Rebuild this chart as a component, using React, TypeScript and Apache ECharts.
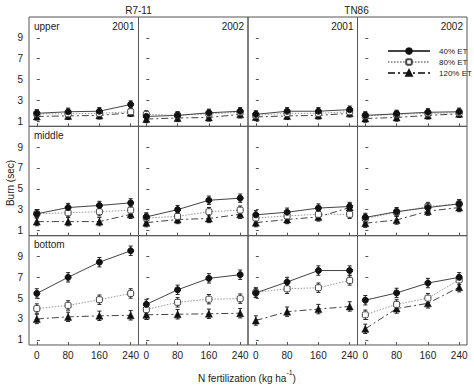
import React, { useEffect, useRef } from 'react';
import * as echarts from 'echarts';

const nRates = [0, 80, 160, 240];
const yTicks = [1, 3, 5, 7, 9];
const etLevels = ['40% ET', '80% ET', '120% ET'];
const rowNames = ['upper', 'middle', 'bottom'];
const colCultivars = ['R7-11', 'TN86'];
const colYears = ['2001', '2002', '2001', '2002'];

// each panel: [40% ET, 80% ET, 120% ET]
const r711_2001_upper = [[1.75, 1.9, 1.95, 2.6], [1.7, 1.7, 1.75, 1.9], [1.45, 1.5, 1.55, 1.8]];
const r711_2002_upper = [[1.45, 1.55, 1.8, 1.95], [1.65, 1.55, 1.7, 1.85], [1.2, 1.3, 1.35, 1.65]];
const tn86_2001_upper = [[1.65, 1.95, 1.95, 2.1], [1.55, 1.75, 1.75, 1.9], [1.4, 1.5, 1.55, 1.75]];
const tn86_2002_upper = [[1.55, 1.7, 1.85, 1.9], [1.5, 1.65, 1.75, 1.8], [1.25, 1.35, 1.55, 1.7]];

const r711_2001_middle = [[2.6, 3.2, 3.4, 3.65], [2.6, 2.7, 2.8, 2.95], [1.85, 1.85, 1.85, 2.55]];
const r711_2002_middle = [[2.3, 3.0, 3.9, 4.1], [2.2, 2.35, 2.8, 2.95], [1.75, 2.05, 2.15, 2.55]];
const tn86_2001_middle = [[2.5, 2.75, 3.15, 3.3], [2.2, 2.4, 2.55, 2.55], [1.75, 2.05, 2.3, 3.2]];
const tn86_2002_middle = [[2.25, 2.8, 3.2, 3.55], [2.15, 2.75, 3.3, 3.55], [1.7, 2.0, 2.85, 3.2]];

const r711_2001_bottom = [[5.45, 7.0, 8.45, 9.55], [4.0, 4.3, 4.85, 5.45], [3.0, 3.2, 3.3, 3.35]];
const r711_2002_bottom = [[4.4, 5.8, 6.9, 7.25], [3.9, 4.6, 4.9, 4.95], [3.4, 3.45, 3.5, 3.55]];
const tn86_2001_bottom = [[5.5, 6.55, 7.65, 7.65], [5.55, 5.9, 6.0, 6.7], [2.85, 3.7, 3.95, 4.2]];
const tn86_2002_bottom = [[4.8, 5.5, 6.45, 7.0], [3.4, 4.4, 5.0, 6.75], [2.05, 4.0, 4.5, 6.05]];

const rowErrors = [0.35, 0.4, 0.45];

const panels = [
  [r711_2001_upper, r711_2002_upper, tn86_2001_upper, tn86_2002_upper],
  [r711_2001_middle, r711_2002_middle, tn86_2001_middle, tn86_2002_middle],
  [r711_2001_bottom, r711_2002_bottom, tn86_2001_bottom, tn86_2002_bottom],
];

const FONT = '"Liberation Sans", Arial, sans-serif';
const TXT = '#222';
const LEFT = 29;
const TOP = 17;
const COL_W = 109.5;
const ROW_H = 109.33;

const seriesStyles = [
  { symbol: 'circle', symbolSize: 6, itemStyle: { color: '#111', borderColor: '#111', borderWidth: 1 }, lineStyle: { color: '#444', width: 1, type: 'solid' as any } },
  { symbol: 'roundRect', symbolSize: 6, itemStyle: { color: '#fff', borderColor: '#444', borderWidth: 1 }, lineStyle: { color: '#999', width: 1, type: [1.5, 1.5] as any } },
  { symbol: 'triangle', symbolSize: 7, itemStyle: { color: '#111', borderColor: '#111', borderWidth: 0.5 }, lineStyle: { color: '#444', width: 1, type: [7, 3, 2, 3] as any } },
];

function errRender(params: any, api: any) {
  const x = api.value(0);
  const y = api.value(1);
  const e = api.value(2);
  const t = api.coord([x, y + e]);
  const b = api.coord([x, y - e]);
  const st = { stroke: '#222', lineWidth: 1 };
  return {
    type: 'group',
    children: [
      { type: 'line', shape: { x1: t[0], y1: t[1], x2: b[0], y2: b[1] }, style: st },
      { type: 'line', shape: { x1: t[0] - 2, y1: t[1], x2: t[0] + 2, y2: t[1] }, style: st },
      { type: 'line', shape: { x1: b[0] - 2, y1: b[1], x2: b[0] + 2, y2: b[1] }, style: st },
    ],
  };
}

export default function App() {
  const ref = useRef<HTMLDivElement>(null);
  useEffect(() => {
    if (!ref.current) return;
    const chart = echarts.init(ref.current, null, { renderer: 'svg' });
    const grid: any[] = [];
    const xAxis: any[] = [];
    const yAxis: any[] = [];
    const series: any[] = [];
    const graphic: any[] = [];
    for (let r = 0; r < 3; r++) {
      for (let c = 0; c < 4; c++) {
        const p = r * 4 + c;
        grid.push({
          left: LEFT + c * COL_W, top: TOP + r * ROW_H, width: COL_W, height: ROW_H,
          show: true, borderColor: '#555', borderWidth: 1, backgroundColor: 'transparent',
        });
        xAxis.push({
          gridIndex: p, type: 'value', min: -20, max: 260,
          axisLine: { show: false }, splitLine: { show: false },
          axisTick: { inside: true, length: 3, customValues: nRates, lineStyle: { color: '#555' } },
          axisLabel: { show: r === 2, customValues: nRates, margin: 6, fontSize: 10, color: TXT, fontFamily: FONT },
        });
        yAxis.push({
          gridIndex: p, type: 'value', min: 0.5, max: 11,
          axisLine: { show: false }, splitLine: { show: false },
          axisTick: { inside: true, length: 3, customValues: yTicks, lineStyle: { color: '#555' } },
          axisLabel: { show: c === 0, customValues: yTicks, margin: 6, fontSize: 10, color: TXT, fontFamily: FONT },
        });
        const vals = panels[r][c];
        for (let k = 0; k < 3; k++) {
          series.push({
            type: 'custom', xAxisIndex: p, yAxisIndex: p, silent: true, z: 2,
            data: nRates.map((x, i) => [x, vals[k][i], rowErrors[r]]),
            renderItem: errRender,
          });
        }
        for (let k = 0; k < 3; k++) {
          series.push({
            type: 'line', name: etLevels[k], xAxisIndex: p, yAxisIndex: p, z: 3 + (2 - k),
            data: nRates.map((x, i) => [x, vals[k][i]]),
            ...seriesStyles[k],
          });
        }
        if (r === 0) {
          graphic.push({
            type: 'text', x: LEFT + (c + 1) * COL_W - 4, y: TOP + 9,
            style: { text: colYears[c], textAlign: 'right', textVerticalAlign: 'middle', fontSize: 10, fill: TXT, fontFamily: FONT },
          });
        }
      }
      graphic.push({
        type: 'text', x: LEFT + 5, y: TOP + r * ROW_H + 9,
        style: { text: rowNames[r], textAlign: 'left', textVerticalAlign: 'middle', fontSize: 10, fill: TXT, fontFamily: FONT },
      });
    }
    graphic.push({
      type: 'text', x: LEFT + COL_W * 1 , y: 10,
      style: { text: colCultivars[0], textAlign: 'center', textVerticalAlign: 'middle', fontSize: 10, fill: TXT, fontFamily: FONT },
    });
    graphic.push({
      type: 'text', x: LEFT + COL_W * 3 - 1, y: 10,
      style: { text: colCultivars[1], textAlign: 'center', textVerticalAlign: 'middle', fontSize: 10, fill: TXT, fontFamily: FONT },
    });
    graphic.push({
      type: 'text', x: 10, y: 183, rotation: Math.PI / 2,
      style: { text: 'Burn (sec)', textAlign: 'center', textVerticalAlign: 'middle', fontSize: 10, fill: TXT, fontFamily: FONT },
    });
    graphic.push({
      type: 'text', x: 247, y: 376,
      style: {
        text: '{a|N fertilization (kg ha}{s|-1}{a|)}',
        textAlign: 'center', textVerticalAlign: 'middle', fill: TXT, fontFamily: FONT, fontSize: 10,
        rich: {
          a: { fontSize: 10, fill: TXT, fontFamily: FONT, lineHeight: 14, verticalAlign: 'bottom' },
          s: { fontSize: 7, fill: TXT, fontFamily: FONT, lineHeight: 14, verticalAlign: 'top' },
        },
      },
    });

    chart.setOption({
      animation: false,
      backgroundColor: '#fff',
      grid, xAxis, yAxis, series, graphic,
      legend: {
        data: etLevels, orient: 'vertical', left: 382, top: 42,
        itemWidth: 42, itemHeight: 7, itemGap: 3,
        textStyle: { fontSize: 8, color: TXT, fontFamily: FONT, padding: [0, 0, 0, 4] },
      },
    });
    return () => chart.dispose();
  }, []);
  return <div ref={ref} style={{ position: 'fixed', left: 0, top: 0, width: 474, height: 387 }} />;
}
